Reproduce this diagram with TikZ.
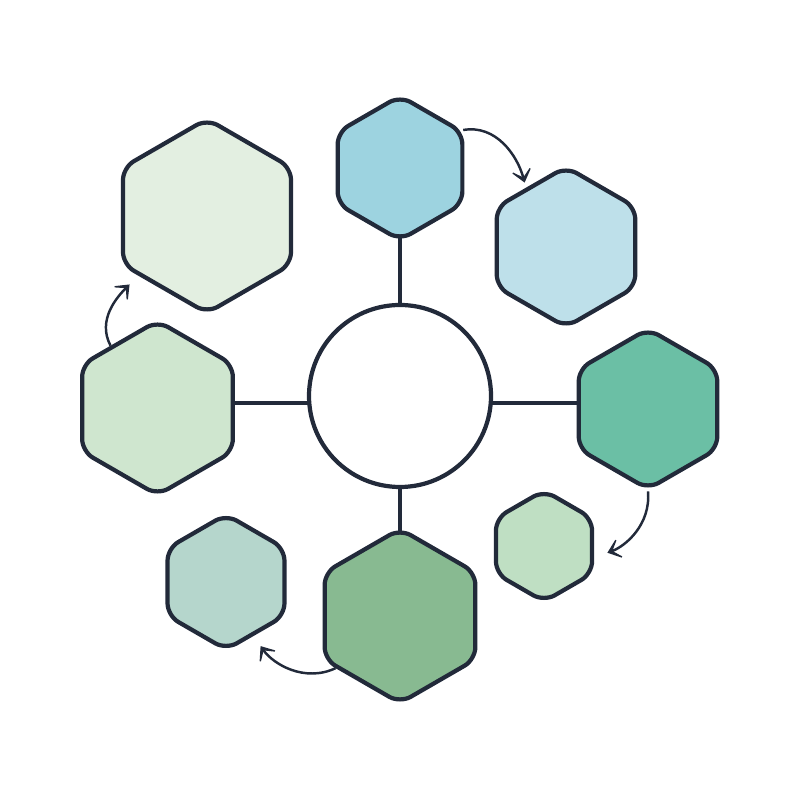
\documentclass[tikz,border=0pt]{standalone}
\usepackage{tikz}
\usetikzlibrary{shapes.geometric, arrows.meta, backgrounds}
\usepackage{xcolor}
\definecolor{ink}{HTML}{222A3A}
\definecolor{hexT}{HTML}{9DD3E0}
\definecolor{hexTR}{HTML}{BEE0EA}
\definecolor{hexR}{HTML}{6BBFA5}
\definecolor{hexS}{HTML}{BFDFC3}
\definecolor{hexB}{HTML}{88BA91}
\definecolor{hexBL}{HTML}{B5D6CC}
\definecolor{hexL}{HTML}{CFE6CF}
\definecolor{hexTL}{HTML}{E3EFE1}

\begin{document}
\begin{tikzpicture}[
        hexa/.style={regular polygon, regular polygon sides=6, shape border rotate=30,
          draw=ink, line width=1.2pt, rounded corners=3.5pt, inner sep=0pt},
        arr/.style={-{Stealth[length=5pt,width=8pt,inset=3.5pt]}, draw=ink, line width=0.7pt}]
        \useasboundingbox (0,0) rectangle (8,8);

        \node[circle, draw=ink, line width=1.2pt, fill=white, minimum size=1.82cm, inner sep=0pt] (C) at (4,4.04) {};

        \foreach \n/\x/\y/\s/\c in {T/4.00/6.32/1.44/hexT, TR/5.66/5.53/1.60/hexTR,
            Rt/6.48/3.91/1.60/hexR, S/5.44/2.54/1.11/hexS, B/4.00/1.84/1.74/hexB,
            BL/2.26/2.18/1.35/hexBL, L/1.575/3.92/1.74/hexL, TL/2.07/5.84/1.94/hexTL}
          \node[hexa, minimum size=\s cm, fill=\c] (\n) at (\x,\y) {};

        \coordinate (h) at (0,3.97);
        \begin{scope}[on background layer]
          \draw[ink, line width=1.1pt] (T.center) -- (B.center);
          \draw[ink, line width=1.1pt] (L.center |- h) -- (Rt.center |- h);
        \end{scope}

        \draw[arr, shorten >=1.5pt] (T.31) to[out=10, in=105] (TR.124);
        \draw[arr, shorten >=4pt] (Rt.south) to[out=-85, in=20] (S.-13);
        \draw[arr, shorten >=3.5pt] (B.219) to[out=205, in=-55] (BL.-63);
        \draw[arr, shorten >=3.5pt] (L.127) to[out=118, in=225] (TL.221);
\end{tikzpicture}
\end{document}
